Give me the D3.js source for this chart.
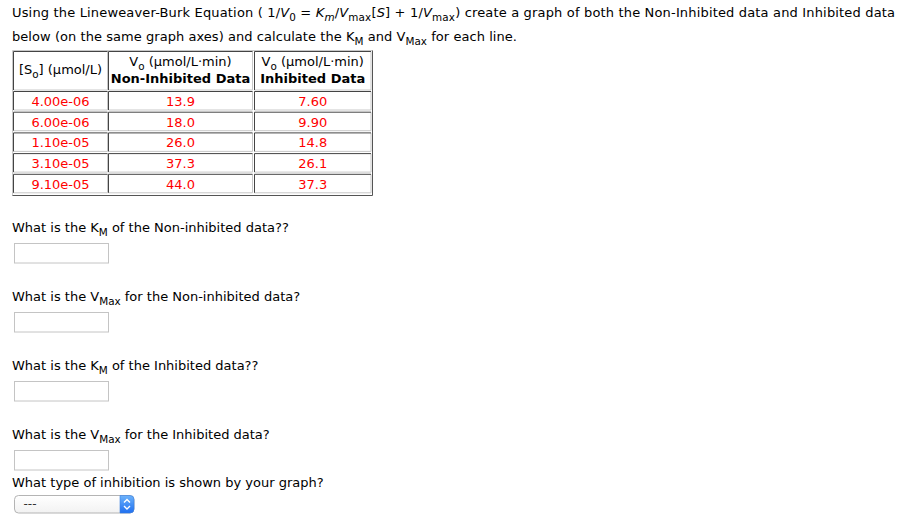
<!DOCTYPE html>
<html>
<head>
<meta charset="utf-8">
<script src="https://cdn.jsdelivr.net/npm/d3@7"></script>
<style>
  body { margin: 0; background: #fff; }
  svg { display: block; font-family: "DejaVu Sans", Verdana, sans-serif; }
</style>
</head>
<body>
<svg width="906" height="530"></svg>
<script>
// table data
var substrate = [4.00e-6, 6.00e-6, 1.10e-5, 3.10e-5, 9.10e-5]
var nonInhibited = [13.9, 18.0, 26.0, 37.3, 44.0]
var inhibited = [7.60, 9.90, 14.8, 26.1, 37.3]

// text pieces: [text, style] where style = "sub", "i", "isub", "b" or ""
var introLine1 = [["Using the Lineweaver-Burk Equation ( 1/",""],["V","i"],["0","sub"],[" = ",""],["K","i"],["m","isub"],["/",""],["V","i"],["max","sub"],["[",""],["S","i"],["] + 1/",""],["V","i"],["max","sub"],[") create a graph of both the Non-Inhibited data and Inhibited data",""]]
var introLine2 = [["below (on the same graph axes) and calculate the K",""],["M","sub"],[" and V",""],["Max","sub"],[" for each line.",""]]

var headCol1 = [["[S",""],["o","sub"],["] (\u03bcmol/L)",""]]
var headUnit = [["V",""],["o","sub"],[" (\u03bcmol/L\u00b7min)",""]]
var headNames = ["Non-Inhibited Data", "Inhibited Data"]

var questions = [
  [["What is the K",""],["M","sub"],[" of the Non-inhibited data??",""]],
  [["What is the V",""],["Max","sub"],[" for the Non-inhibited data?",""]],
  [["What is the K",""],["M","sub"],[" of the Inhibited data??",""]],
  [["What is the V",""],["Max","sub"],[" for the Inhibited data?",""]],
  [["What type of inhibition is shown by your graph?",""]]
]
var selectLabel = "---"

var svg = d3.select("svg")

var fmtSci = function(v)
{
  return d3.format(".2e")(v).replace(/e([+-])(\d)$/, "e$10$2")
}
var fmtV = d3.format(".3r")

// writes a line of text with subscripts into a text element
var richText = function(g, parts, x, y, anchor, size)
{
  var t = g.append("text")
    .attr("x", x)
    .attr("y", y)
    .attr("text-anchor", anchor || "start")
    .attr("font-size", size || 13)
    .attr("fill", "#000")
  var prevSub = false
  parts.forEach(function(p)
  {
    var s = t.append("tspan").text(p[0])
    var sub = p[1] == "sub" || p[1] == "isub"
    if (p[1] == "i" || p[1] == "isub") s.attr("font-style", "italic")
    if (sub) s.attr("font-size", (size || 13) * 0.8)
    // drop for a subscript, come back up after it
    var dy = 0
    if (sub && !prevSub) dy = 4
    if (!sub && prevSub) dy = -4
    s.attr("dy", dy)
    prevSub = sub
  })
  return t
}

richText(svg, introLine1, 12, 17)
  .attr("textLength", 883).attr("lengthAdjust", "spacing")
richText(svg, introLine2, 12, 40.5)
  .attr("textLength", 505).attr("lengthAdjust", "spacing")

// ----- table -----
var table = svg.append("g")

var colX = d3.scaleOrdinal().domain([0, 1, 2]).range([13.5, 108.5, 254.5])
var colW = d3.scaleOrdinal().domain([0, 1, 2]).range([94, 144, 116.5])

var rowY = d3.scaleBand()
  .domain(d3.range(substrate.length))
  .range([91.5, 91.5 + 20.7 * substrate.length])

// outer border (outset)
table.append("path")
  .attr("d", "M12.5,195.5 V50.5 H372.5")
  .attr("fill", "none").attr("stroke", "#c8c8c8")
table.append("path")
  .attr("d", "M12.5,195.5 H372.5 V50.5")
  .attr("fill", "none").attr("stroke", "#555")

var insetCell = function(x, y, w, h)
{
  table.append("path")
    .attr("d", "M" + x + "," + (y + h) + " H" + (x + w) + " V" + y)
    .attr("fill", "none").attr("stroke", "#c8c8c8")
  table.append("path")
    .attr("d", "M" + x + "," + (y + h) + " V" + y + " H" + (x + w))
    .attr("fill", "none").attr("stroke", "#444")
}

// header cells
d3.range(3).forEach(function(c)
{
  insetCell(colX(c), 51.5, colW(c), 38.5)
})
richText(table, headCol1, colX(0) + colW(0) / 2, 74, "middle")
headNames.forEach(function(name, k)
{
  var cx = colX(k + 1) + colW(k + 1) / 2
  richText(table, headUnit, cx, 66, "middle")
  table.append("text")
    .attr("x", cx)
    .attr("y", 83)
    .attr("text-anchor", "middle")
    .attr("font-size", 13)
    .attr("font-weight", "bold")
    .text(name)
})

// data rows
var rows = substrate.map(function(s, i)
{
  return [fmtSci(s), fmtV(nonInhibited[i]), fmtV(inhibited[i])]
})

rows.forEach(function(row, i)
{
  row.forEach(function(val, c)
  {
    insetCell(colX(c), rowY(i), colW(c), rowY.bandwidth() - 2.2)
    table.append("text")
      .attr("x", colX(c) + colW(c) / 2)
      .attr("y", rowY(i) + 14.3)
      .attr("text-anchor", "middle")
      .attr("font-size", 13)
      .attr("fill", "#f00")
      .text(val)
  })
})

// ----- questions -----
var qY = d3.scaleLinear().domain([0, 1]).range([232, 301])

questions.forEach(function(q, i)
{
  var y = i < 4 ? qY(i) : 486.5
  richText(svg, q, 12, y)
  if (i < 4)
  {
    svg.append("rect")
      .attr("x", 14.5)
      .attr("y", y + 11.5)
      .attr("width", 94)
      .attr("height", 19.5)
      .attr("fill", "#fff")
      .attr("stroke", "#c4c4c4")
  }
})

// select box
var defs = svg.append("defs")
var g1 = defs.append("linearGradient").attr("id", "selBg").attr("x1", 0).attr("x2", 0).attr("y1", 0).attr("y2", 1)
g1.append("stop").attr("offset", "0%").attr("stop-color", "#ffffff")
g1.append("stop").attr("offset", "100%").attr("stop-color", "#f2f2f2")
var g2 = defs.append("linearGradient").attr("id", "selBtn").attr("x1", 0).attr("x2", 0).attr("y1", 0).attr("y2", 1)
g2.append("stop").attr("offset", "0%").attr("stop-color", "#6db3fb")
g2.append("stop").attr("offset", "100%").attr("stop-color", "#1f6ff0")

var sel = svg.append("g").attr("transform", "translate(14.5,495.5)")
sel.append("rect")
  .attr("width", 119.5).attr("height", 17.5).attr("rx", 4)
  .attr("fill", "url(#selBg)").attr("stroke", "#b4b4b4")
sel.append("path")
  .attr("d", "M105.5,0 H115.5 A4,4 0 0 1 119.5,4 V13.5 A4,4 0 0 1 115.5,17.5 H105.5 Z")
  .attr("fill", "url(#selBtn)").attr("stroke", "#3a7fe0").attr("stroke-width", 0.6)
sel.append("path")
  .attr("d", "M109.5,7 L112.5,4 L115.5,7 M109.5,10.5 L112.5,13.5 L115.5,10.5")
  .attr("fill", "none").attr("stroke", "#fff").attr("stroke-width", 1.4)
sel.append("text")
  .attr("x", 9).attr("y", 12.5)
  .attr("font-size", 12).attr("fill", "#333")
  .text(selectLabel)
</script>
</body>
</html>
